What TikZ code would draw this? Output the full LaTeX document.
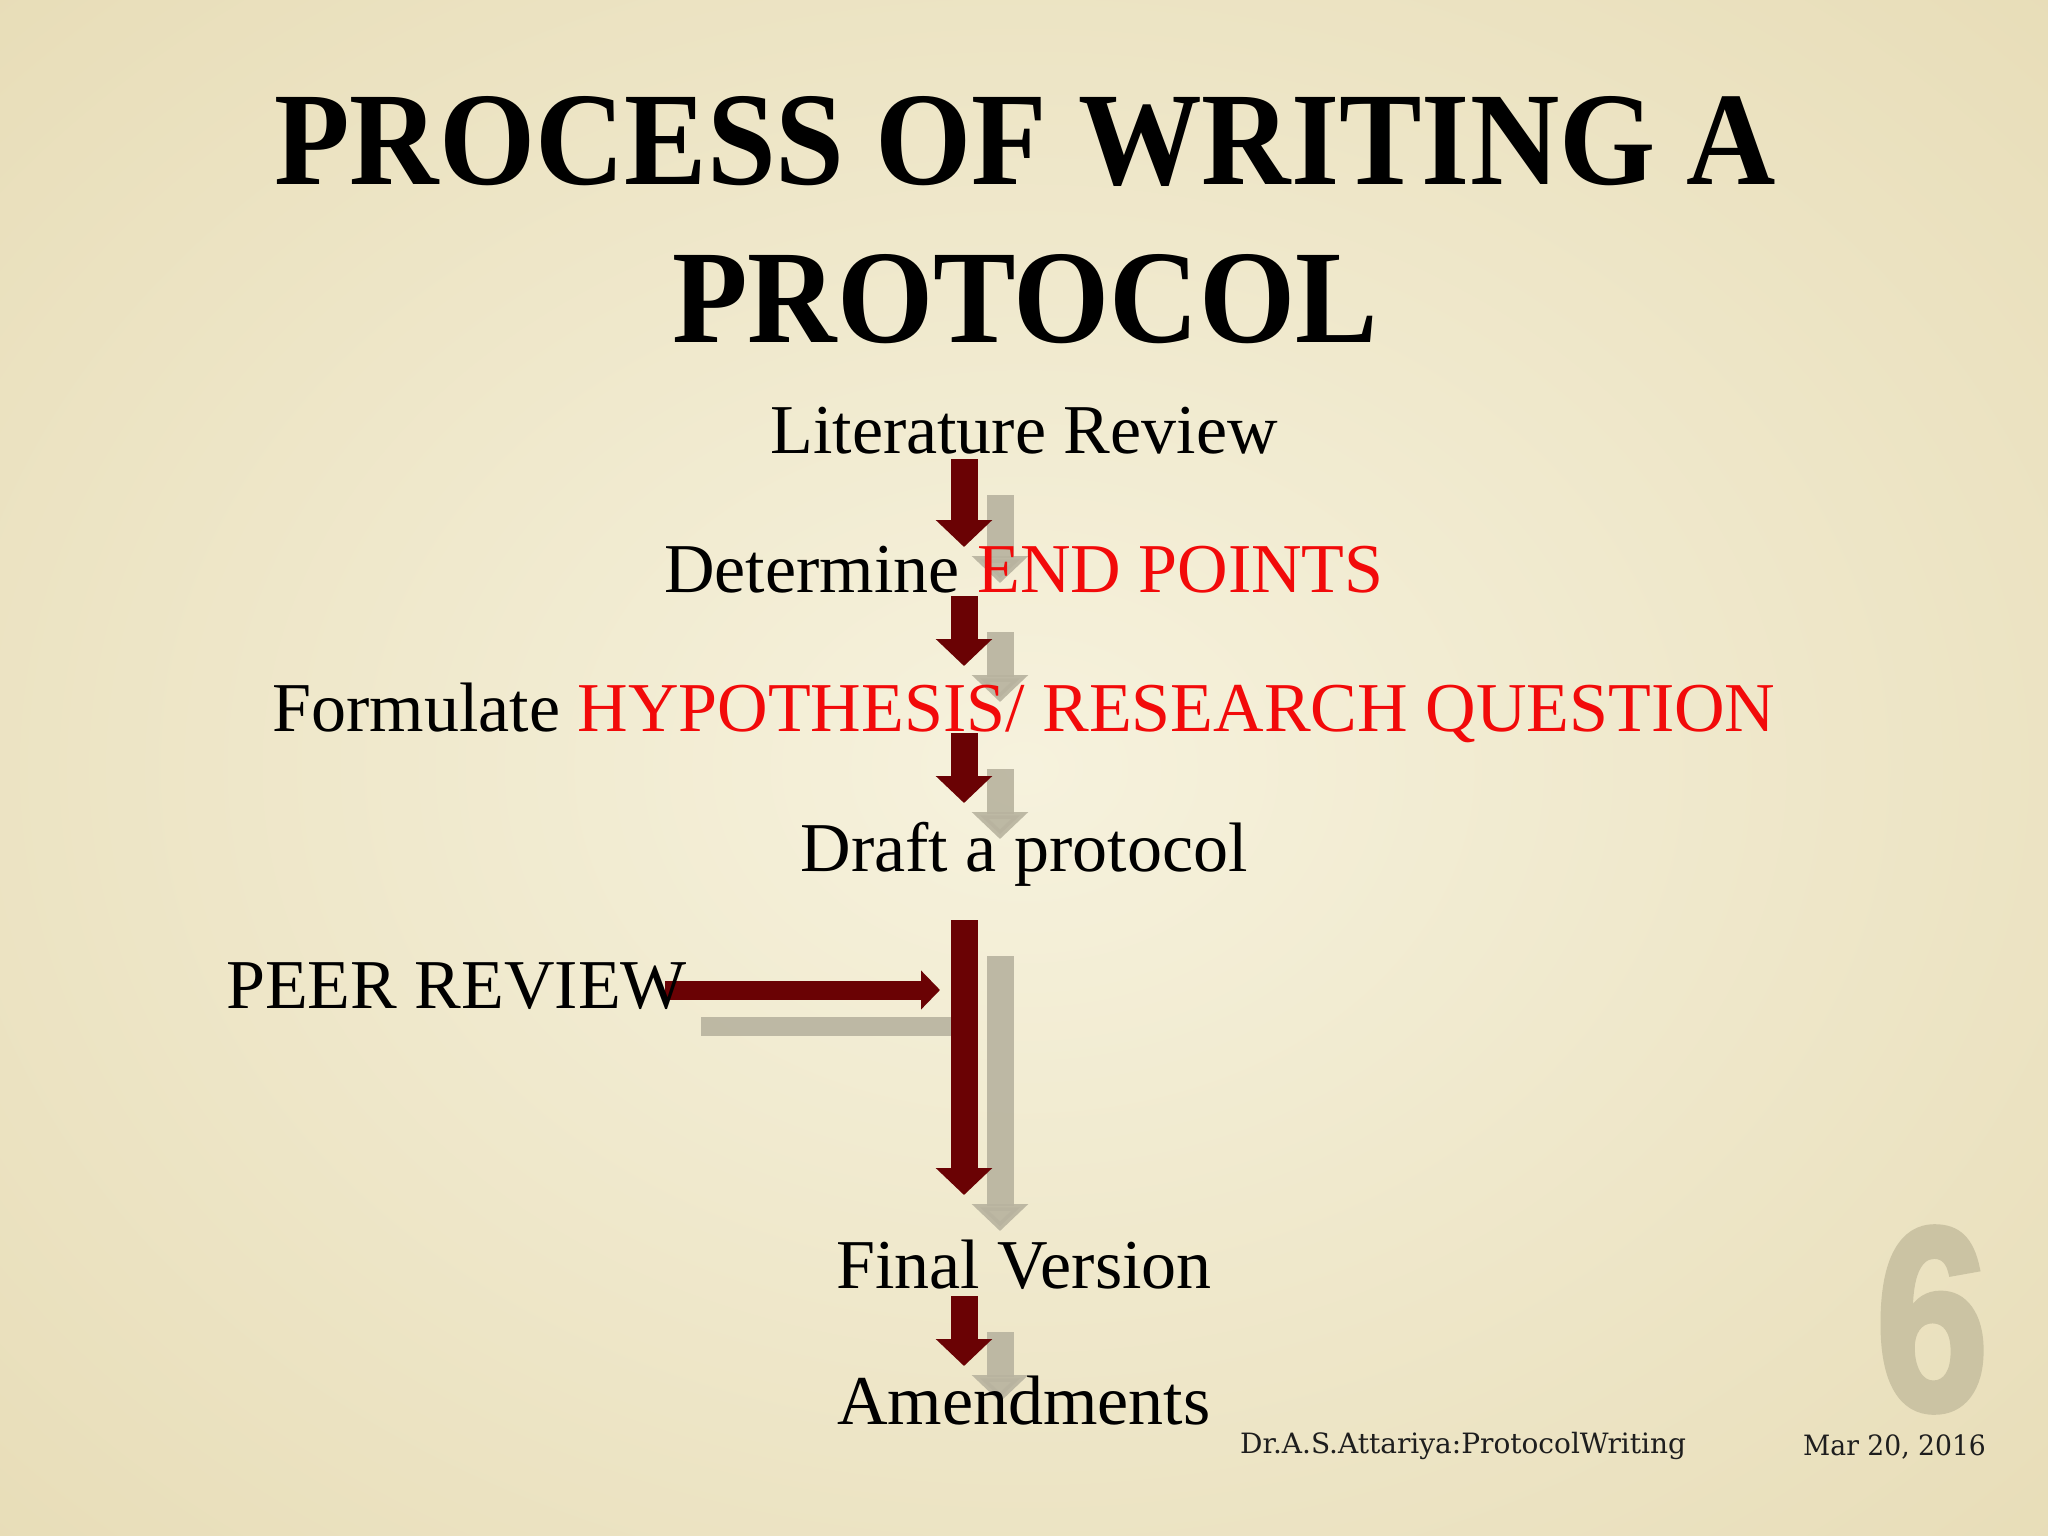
\documentclass[tikz,border=0pt]{standalone}
\usepackage{graphicx}
\usepackage{fontspec}
\setmainfont{Liberation Serif}
\newfontfamily\footfont{DejaVu Serif}
\newfontfamily\numfont[FakeBold=2.5]{Liberation Sans}
\usetikzlibrary{arrows.meta}
\definecolor{bgin}{HTML}{F6F2DD}
\definecolor{bgout}{HTML}{E7DCB6}
\definecolor{darkred}{HTML}{6A0204}
\definecolor{shadowgray}{HTML}{B8B39F}
\definecolor{hotred}{HTML}{F20A0A}
\definecolor{numgray}{HTML}{CBC3A3}
\definecolor{foot}{HTML}{1E1E1E}
\begin{document}
\begin{tikzpicture}[x=1pt,y=-1pt,
  titletxt/.style={inner sep=0pt, anchor=base, font=\bfseries\fontsize{133}{150}\selectfont},
  bodytxt/.style={inner sep=0pt, anchor=base, font=\fontsize{70}{84}\selectfont},
  foottxt/.style={inner sep=0pt, anchor=base west, text=foot, font=\footfont\fontsize{28}{32}\selectfont},
  numtxt/.style={inner sep=0pt, anchor=base, text depth=0pt, text=numgray, font=\numfont\bfseries\fontsize{260}{260}\selectfont},
  redarrow/.style={draw=darkred, line width=27pt, -{Triangle[width=55pt,length=27pt]}},
  grayarrow/.style={draw=shadowgray, line width=27pt, -{Triangle[width=55pt,length=27pt]}, opacity=0.9},
  redharrow/.style={draw=darkred, line width=19pt, -{Triangle[width=38pt,length=19pt]}},
  grayharrow/.style={draw=shadowgray, line width=19pt, -{Triangle[width=38pt,length=19pt]}, opacity=0.9}]
% background
\useasboundingbox (0,0) rectangle (2048,1536);
\shade[inner color=bgin, outer color=bgout] (-500,-400) rectangle (2548,1936);

% title
\node[titletxt] (t1) at (1025,184) {\scalebox{0.93}[1]{PROCESS OF WRITING A}};
\node[titletxt] (t2) at (1025,342) {\scalebox{0.93}[1]{PROTOCOL}};

% slide number
\node[numtxt] (num) at (1932,1409) {\scalebox{0.78}[1]{6}};

% coordinates of arrows
\coordinate (a1s) at (964,459);  \coordinate (a1e) at (964,547);
\coordinate (a2s) at (964,596);  \coordinate (a2e) at (964,666);
\coordinate (a3s) at (964,733);  \coordinate (a3e) at (964,803);
\coordinate (a4s) at (964,920);  \coordinate (a4e) at (964,1195);
\coordinate (a5s) at (964,1296); \coordinate (a5e) at (964,1366);
\coordinate (hs) at (665,990);   \coordinate (he) at (940,990);

% shadows
\foreach \s/\e in {a1s/a1e,a2s/a2e,a3s/a3e,a4s/a4e,a5s/a5e}{
  \draw[grayarrow] ([shift={(36,36)}]\s) -- ([shift={(36,36)}]\e);
}
\draw[grayharrow] ([shift={(36,36)}]hs) -- ([shift={(36,36)}]he);

% red arrows
\draw[redarrow] (a1s) -- (a1e);
\draw[redarrow] (a2s) -- (a2e);
\draw[redarrow] (a3s) -- (a3e);
\draw[redharrow] (hs) -- (he);
\draw[redarrow] (a4s) -- (a4e);
\draw[redarrow] (a5s) -- (a5e);

% body texts
\node[bodytxt] (lit) at (1024,453) {Literature Review};
\node[bodytxt] (end) at (1024,592) {Determine \textcolor{hotred}{END POINTS}};
\node[bodytxt] (hyp) at (1024,731) {Formulate \textcolor{hotred}{HYPOTHESIS/ RESEARCH QUESTION}};
\node[bodytxt] (draft) at (1024,871) {Draft a protocol};
\node[bodytxt, anchor=base west] (peer) at (226,1008) {PEER REVIEW};
\node[bodytxt] (final) at (1024,1288) {Final Version};
\node[bodytxt] (amend) at (1024,1424) {Amendments};

% footer
\node[foottxt] (author) at (1240,1453) {Dr.A.S.Attariya:ProtocolWriting};
\node[foottxt] (date) at (1803,1455) {\scalebox{0.95}[1]{Mar 20, 2016}};
\end{tikzpicture}
\end{document}
